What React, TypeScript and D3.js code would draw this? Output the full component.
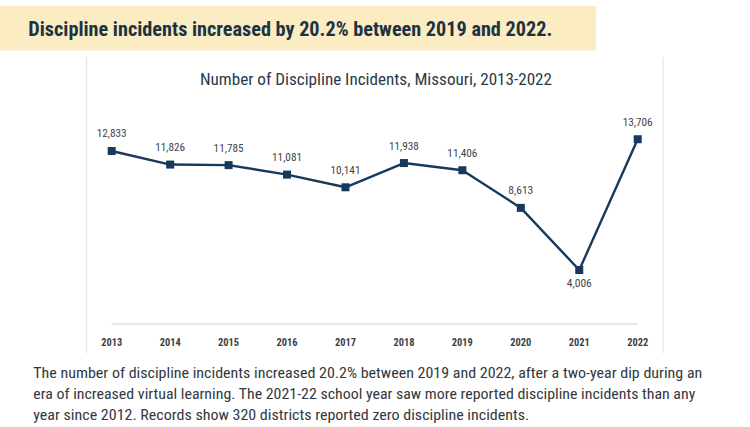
import React from "react";
import * as d3 from "d3";

const years = ["2013", "2014", "2015", "2016", "2017", "2018", "2019", "2020", "2021", "2022"];
const incidents = [12833, 11826, 11785, 11081, 10141, 11938, 11406, 8613, 4006, 13706];
const valueLabels = ["12,833", "11,826", "11,785", "11,081", "10,141", "11,938", "11,406", "8,613", "4,006", "13,706"];

const headline = "Discipline incidents increased by 20.2% between 2019 and 2022.";
const chartTitle = "Number of Discipline Incidents, Missouri, 2013-2022";
const footerLines = [
  "The number of discipline incidents increased 20.2% between 2019 and 2022, after a two-year dip during an",
  "era of increased virtual learning. The 2021-22 school year saw more reported discipline incidents than any",
  "year since 2012. Records show 320 districts reported zero discipline incidents.",
];

const W = 750;
const H = 427;
const FONT = "'Roboto Condensed', 'Liberation Sans Narrow', 'DejaVu Sans Condensed', 'Arial Narrow', sans-serif";
const NAVY = "#173a5c";

export default function App() {
  const x = d3.scalePoint<string>().domain(years).range([111.7, 637.7]);
  const y = d3.scaleLinear().domain([0, 16000]).range([324, 108.3]);

  const pts = years.map((yr, i) => ({ yr, v: incidents[i], label: valueLabels[i] }));
  const line = d3
    .line<{ yr: string; v: number }>()
    .x((d) => x(d.yr) as number)
    .y((d) => y(d.v));

  const minV = d3.min(incidents) as number;
  const footerWidths = [669, 662, 496];
  const m = 8;

  return (
    <svg
      width={W}
      height={H}
      viewBox={`0 0 ${W} ${H}`}
      style={{ position: "absolute", left: 0, top: 0, background: "#ffffff" }}
    >
      {/* headline banner */}
      <rect x={0} y={6} width={596} height={44.5} fill="#fcecc3" />
      <text
        x={28.3}
        y={36}
        fontFamily={FONT}
        fontWeight="bold"
        fontSize={21}
        fill="#1b3342"
        textLength={524}
        lengthAdjust="spacingAndGlyphs"
      >
        {headline}
      </text>

      {/* chart panel edges */}
      <line x1={86.7} x2={86.7} y1={57} y2={353} stroke="#e5e5e5" strokeWidth={1.2} />
      <line x1={663} x2={663} y1={57} y2={353} stroke="#e5e5e5" strokeWidth={1.2} />

      <text
        x={376}
        y={84.5}
        textAnchor="middle"
        fontFamily={FONT}
        fontSize={16}
        fill="#2a3a48"
        textLength={352}
        lengthAdjust="spacingAndGlyphs"
      >
        {chartTitle}
      </text>

      {/* baseline */}
      <line x1={x(years[0])} x2={x(years[years.length - 1])} y1={y(0)} y2={y(0)} stroke="#cfcfcf" strokeWidth={1} />

      {/* year labels */}
      {years.map((yr) => (
        <text
          key={yr}
          x={x(yr)}
          y={345.8}
          textAnchor="middle"
          fontFamily={FONT}
          fontSize={11}
          fontWeight="bold"
          fill="#3a3f44"
          textLength={21}
          lengthAdjust="spacingAndGlyphs"
        >
          {yr}
        </text>
      ))}

      {/* series line */}
      <path d={line(pts) as string} fill="none" stroke={NAVY} strokeWidth={2.4} strokeLinejoin="round" />

      {/* markers */}
      {pts.map((p) => (
        <rect
          key={p.yr}
          x={(x(p.yr) as number) - m / 2}
          y={y(p.v) - m / 2}
          width={m}
          height={m}
          fill={NAVY}
        />
      ))}

      {/* value labels */}
      {pts.map((p) => {
        const below = p.v === minV;
        return (
          <text
            key={p.yr}
            x={x(p.yr)}
            y={below ? y(p.v) + 17.5 : y(p.v) - 13.5}
            textAnchor="middle"
            fontFamily={FONT}
            fontSize={11}
            fill="#3f4448"
            textLength={p.label.length * 5}
            lengthAdjust="spacingAndGlyphs"
          >
            {p.label}
          </text>
        );
      })}

      {/* description */}
      {footerLines.map((t, i) => (
        <text
          key={i}
          x={33.3}
          y={378.3 + i * 21}
          fontFamily={FONT}
          fontSize={15}
          fill="#33383c"
          textLength={footerWidths[i]}
          lengthAdjust="spacingAndGlyphs"
        >
          {t}
        </text>
      ))}
    </svg>
  );
}
